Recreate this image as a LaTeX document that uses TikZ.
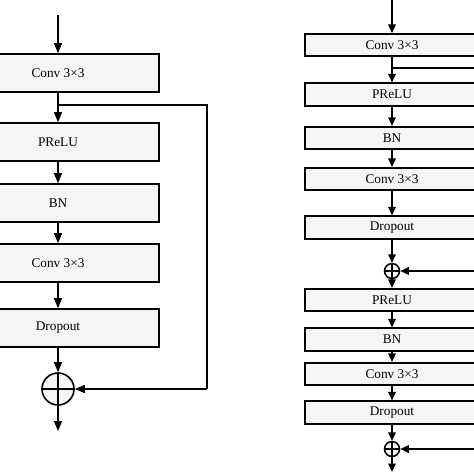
\documentclass[tikz,border=0pt]{standalone}
\usepackage{fontspec}
\setmainfont{Liberation Serif}
\usetikzlibrary{arrows.meta}
\begin{document}
\begin{tikzpicture}[x=1pt,y=-1pt,
  blk/.style={draw, line width=1.6pt, fill=gray!8, minimum height=38pt, minimum width=202pt, inner sep=0pt, font=\fontsize{13.3}{15}\selectfont},
  blkR/.style={blk, minimum height=22.5pt, minimum width=174pt},
  con/.style={line width=1.5pt, -{Triangle[length=10pt,width=8pt]}},
  conR/.style={line width=1.5pt, -{Triangle[length=8.5pt,width=7.5pt]}},
  lin/.style={line width=1.5pt},
  sumL/.style={circle, draw, line width=1.6pt, fill=gray!8, minimum size=32pt, inner sep=0pt},
  sumR/.style={circle, draw, line width=1.5pt, fill=gray!8, minimum size=15pt, inner sep=0pt},
]
\useasboundingbox (0,0) rectangle (474,474);
\clip (0,0) rectangle (474,474);
% ---------- left block ----------
\coordinate (inL) at (58,15);
\node[blk] (c1) at (58,73) {Conv 3×3};
\node[blk] (p1) at (58,142) {PReLU};
\node[blk] (b1) at (58,203) {BN};
\node[blk] (c2) at (58,263) {Conv 3×3};
\node[blk] (d1) at (58,328) {Dropout};
\node[sumL] (s1) at (58,389) {};
\coordinate (outL) at (58,431);
\coordinate (brL) at (58,105);
\coordinate (rtL) at (207,105);
\coordinate (rbL) at (207,389);
\draw[con] (inL) -- (c1);
\draw[con] (c1) -- (p1);
\draw[con] (p1) -- (b1);
\draw[con] (b1) -- (c2);
\draw[con] (c2) -- (d1);
\draw[con] (d1) -- (s1);
\draw[lin] (brL) -- (rtL) -- (rbL);
\draw[con] (rbL) -- (s1);
\draw[lin] (s1.north) -- (s1.south) (s1.west) -- (s1.east);
\draw[con] (s1) -- (outL);
% ---------- right block ----------
\coordinate (inR) at (392,-2);
\node[blkR] (c3) at (392,45) {Conv 3×3};
\node[blkR] (p2) at (392,94.5) {PReLU};
\node[blkR] (b2) at (392,138) {BN};
\node[blkR] (c4) at (392,179) {Conv 3×3};
\node[blkR] (d2) at (392,227.5) {Dropout};
\node[sumR] (s2) at (392,271) {};
\node[blkR] (p3) at (392,300) {PReLU};
\node[blkR] (b3) at (392,339.5) {BN};
\node[blkR] (c5) at (392,374) {Conv 3×3};
\node[blkR] (d3) at (392,412.5) {Dropout};
\node[sumR] (s3) at (392,449) {};
\coordinate (outR) at (392,472);
\coordinate (brR) at (392,68);
\coordinate (brRe) at (490,68);
\coordinate (sk2) at (490,271);
\coordinate (sk3) at (490,449);
\draw[conR] (inR) -- (c3);
\draw[conR] (c3) -- (p2);
\draw[lin] (brR) -- (brRe);
\draw[conR] (p2) -- (b2);
\draw[conR] (b2) -- (c4);
\draw[conR] (c4) -- (d2);
\draw[conR] (d2) -- (s2);
\draw[conR] (sk2) -- (s2);
\draw[lin] (s2.north) -- (s2.south) (s2.west) -- (s2.east);
\draw[conR] (s2) -- (p3);
\draw[conR] (p3) -- (b3);
\draw[conR] (b3) -- (c5);
\draw[conR] (c5) -- (d3);
\draw[conR] (d3) -- (s3);
\draw[conR] (sk3) -- (s3);
\draw[lin] (s3.north) -- (s3.south) (s3.west) -- (s3.east);
\draw[conR] (s3) -- (outR);
\end{tikzpicture}
\end{document}
